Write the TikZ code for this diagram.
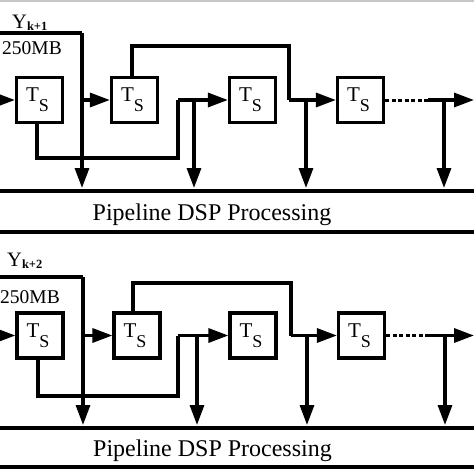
\documentclass[tikz,border=0pt]{standalone}
\usepackage{fontspec}
\setmainfont{Liberation Serif}
\usetikzlibrary{arrows.meta}
\newcommand\tslabel{\hspace*{-4pt}T\raisebox{-10pt}{\fontsize{18}{18}\selectfont S}}
\begin{document}
\begin{tikzpicture}[x=1pt,y=-1pt,
  wire/.style={line width=3.2pt},
  arr/.style={wire,-{Triangle[length=20pt,width=14pt]}},
  tsbox/.style={draw,line width=3.2pt,minimum width=46pt,minimum height=45pt,inner sep=0pt,font=\fontsize{21}{21}\selectfont},
  lbl/.style={inner sep=0pt,font=\fontsize{20.5}{20.5}\selectfont},
  mb/.style={inner sep=0pt,font=\fontsize{19.5}{19.5}\selectfont},
  bartext/.style={inner sep=0pt,font=\fontsize{24}{24}\selectfont},
  dots/.style={line width=3pt,dash pattern=on 4pt off 2.5pt}]
\useasboundingbox (0,0) rectangle (474,474);
\draw[gray!45,line width=1.5pt] (0,1) -- (474,1);

% ---------------- panel 1 ----------------
\node[lbl,anchor=base west] (y1) at (12,28) {Y\raisebox{-2pt}{\fontsize{12.5}{12}\selectfont\bfseries k+1}};
\node[mb,anchor=base east] (m1) at (62,54) {250MB};
\node[tsbox] (a1) at (39.5,100) {\tslabel};
\node[tsbox] (a2) at (134.5,100) {\tslabel};
\node[tsbox] (a3) at (252.5,100) {\tslabel};
\node[tsbox] (a4) at (360.5,100) {\tslabel};
\node[bartext,anchor=base] (p1) at (212,220) {Pipeline DSP Processing};
\coordinate (in1) at (0,100);
\coordinate (ys1) at (0,33);
\coordinate (yc1) at (82,33);
\coordinate (yb1) at (82,188);
\coordinate (yj1) at (82,100);
\coordinate (l1b) at (178,158);
\coordinate (l1c) at (178,100);
\coordinate (d1a) at (194,100);
\coordinate (d1b) at (194,188);
\coordinate (u1b) at (289,46);
\coordinate (u1c) at (289,100);
\coordinate (d2a) at (306,100);
\coordinate (d2b) at (306,188);
\coordinate (o1a) at (428,100);
\coordinate (o1b) at (474,100);
\coordinate (d3a) at (444,100);
\coordinate (d3b) at (444,188);
\coordinate (bl1) at (0,191);
\coordinate (br1) at (474,191);
\coordinate (cl1) at (0,232);
\coordinate (cr1) at (474,232);

\draw[arr] (in1) -- (a1.west);
\draw[wire] (ys1) -- (yc1);
\draw[arr] (yc1) -- (yb1);
\draw[arr] (yj1) -- (a2.west);
\draw[wire] ([xshift=-2.5pt]a1.south) |- (l1b) -- (l1c);
\draw[arr] (l1c) -- (a3.west);
\draw[arr] (d1a) -- (d1b);
\draw[wire] ([xshift=-2.5pt]a2.north) |- (u1b) -- (u1c);
\draw[arr] (u1c) -- (a4.west);
\draw[arr] (d2a) -- (d2b);
\draw[dots] (a4.east) -- (o1a);
\draw[arr] (o1a) -- (o1b);
\draw[arr] (d3a) -- (d3b);
\draw[wire] (bl1) -- (br1);
\draw[wire] (cl1) -- (cr1);

% ---------------- panel 2 ----------------
\node[lbl,anchor=base west] (y2) at (7,266) {Y\raisebox{-2pt}{\fontsize{12.5}{12}\selectfont\bfseries k+2}};
\node[mb,anchor=base east] (m2) at (60,303) {250MB};
\node[tsbox] (b1) at (40,335.5) {\tslabel};
\node[tsbox] (b2) at (137,335.5) {\tslabel};
\node[tsbox] (b3) at (253,335.5) {\tslabel};
\node[tsbox] (b4) at (361.5,335.5) {\tslabel};
\node[bartext,anchor=base] (p2) at (212.5,456) {Pipeline DSP Processing};
\coordinate (in2) at (0,335.5);
\coordinate (ys2) at (0,277);
\coordinate (yc2) at (83,277);
\coordinate (yb2) at (83,425);
\coordinate (yj2) at (83,335.5);
\coordinate (l2b) at (178,396);
\coordinate (l2c) at (178,335.5);
\coordinate (e1a) at (197,335.5);
\coordinate (e1b) at (197,425);
\coordinate (u2b) at (291,283);
\coordinate (u2c) at (291,335.5);
\coordinate (e2a) at (307,335.5);
\coordinate (e2b) at (307,425);
\coordinate (o2a) at (428,335.5);
\coordinate (o2b) at (474,335.5);
\coordinate (e3a) at (445,335.5);
\coordinate (e3b) at (445,425);
\coordinate (bl2) at (0,428);
\coordinate (br2) at (474,428);
\coordinate (cl2) at (0,467);
\coordinate (cr2) at (474,467);

\draw[arr] (in2) -- (b1.west);
\draw[wire] (ys2) -- (yc2);
\draw[arr] (yc2) -- (yb2);
\draw[arr] (yj2) -- (b2.west);
\draw[wire] ([xshift=-2pt]b1.south) |- (l2b) -- (l2c);
\draw[arr] (l2c) -- (b3.west);
\draw[arr] (e1a) -- (e1b);
\draw[wire] ([xshift=-4pt]b2.north) |- (u2b) -- (u2c);
\draw[arr] (u2c) -- (b4.west);
\draw[arr] (e2a) -- (e2b);
\draw[dots] (b4.east) -- (o2a);
\draw[arr] (o2a) -- (o2b);
\draw[arr] (e3a) -- (e3b);
\draw[wire] (bl2) -- (br2);
\draw[wire] (cl2) -- (cr2);
\end{tikzpicture}
\end{document}
